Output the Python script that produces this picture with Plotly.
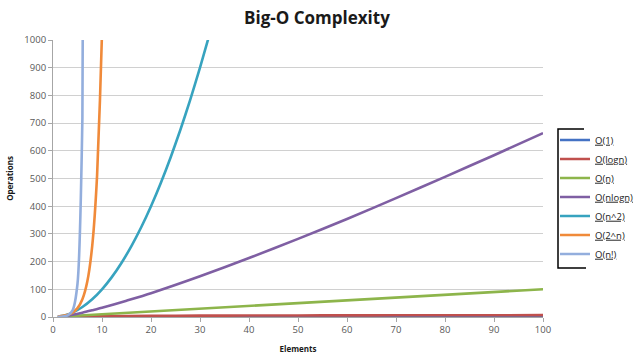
import plotly.graph_objects as go

# ---- data ----
series_names = ["O(1)", "O(logn)", "O(n)", "O(nlogn)", "O(n^2)", "O(2^n)", "O(n!)"]

x_const = [1, 100]
y_const = [1, 1]

x_log = [1, 2, 4, 10, 20, 30, 40, 50, 60, 70, 80, 90, 100]
y_log = [0, 1, 2, 3.3, 4.3, 4.9, 5.3, 5.6, 5.9, 6.1, 6.3, 6.5, 6.6]

x_lin = [1, 100]
y_lin = [1, 100]

x_nlog = [1, 2, 4, 6, 8, 10, 15, 20, 30, 40, 50, 60, 70, 80, 90, 100]
y_nlog = [0, 2, 8, 15.5, 24, 33, 59, 86, 147, 213, 282, 354, 429, 506, 584, 664]

x_sq = [1, 2, 3, 4, 6, 8, 10, 12, 14, 16, 18, 20, 22, 24, 26, 28, 30, 32]
y_sq = [1, 4, 9, 16, 36, 64, 100, 144, 196, 256, 324, 400, 484, 576, 676, 784, 900, 1024]

x_exp = [1, 2, 3, 4, 5, 6, 7, 8, 9, 10, 11]
y_exp = [2, 4, 8, 16, 32, 64, 128, 256, 512, 1024, 2048]

x_fact = [1, 2, 3, 4, 5, 6, 7]
y_fact = [1, 2, 6, 24, 120, 720, 5040]

colors = ["#4472c4", "#c0504d", "#8db54b", "#7f5fa3", "#37a3bf", "#f08a3a", "#93aedd"]

xs = [x_const, x_log, x_lin, x_nlog, x_sq, x_exp, x_fact]
ys = [y_const, y_log, y_lin, y_nlog, y_sq, y_exp, y_fact]

W, H = 639, 360
ML, MR, MT, MB = 53, 96, 40, 43
PW, PH = W - ML - MR, H - MT - MB

def px_to_paper_x(px):
    return (px - ML) / PW

def px_to_paper_y(py):
    return (H - MB - py) / PH

fig = go.Figure()
for name, x, y, c in zip(series_names, xs, ys, colors):
    fig.add_trace(go.Scatter(
        x=x, y=y, mode="lines", name="<u>" + name + "</u>",
        line=dict(color=c, width=2.6, shape="spline", smoothing=0.6),
        cliponaxis=True,
    ))

fig.update_layout(
    width=W, height=H,
    margin=dict(l=ML, r=MR, t=MT, b=MB, autoexpand=False),
    paper_bgcolor="white", plot_bgcolor="white",
    font=dict(family="Open Sans, Liberation Sans, sans-serif", color="#595959"),
    title=dict(text="<b>Big-O Complexity</b>", x=0.496, xanchor="center",
               y=0.95, yanchor="middle",
               font=dict(size=17, color="#1a1a1a")),
    showlegend=True,
    legend=dict(x=px_to_paper_x(555), xanchor="left",
                y=px_to_paper_y(197), yanchor="middle",
                font=dict(size=9.5, color="#1a1a1a"),
                bgcolor="rgba(0,0,0,0)", borderwidth=0,
                itemwidth=30, tracegroupgap=0),
    xaxis=dict(range=[0, 100], dtick=10, tick0=0, showgrid=False, automargin=False,
               showline=True, linecolor="#a6a6a6", linewidth=1,
               ticks="outside", ticklen=4, tickcolor="#a6a6a6",
               tickfont=dict(size=9.5, color="#595959"), zeroline=False,
               title=dict(text="<b>Elements</b>", font=dict(size=8, color="#1a1a1a"), standoff=10)),
    yaxis=dict(range=[0, 1000], dtick=100, tick0=0, showgrid=True, automargin=False,
               gridcolor="#d0d0d0", gridwidth=1,
               showline=True, linecolor="#a6a6a6", linewidth=1,
               ticks="outside", ticklen=4, tickcolor="#a6a6a6",
               tickfont=dict(size=9.5, color="#595959"), zeroline=False,
               title=dict(text="<b>Operations</b>", font=dict(size=8, color="#1a1a1a"), standoff=9)),
)

# legend bracket
fig.add_shape(type="path", xref="paper", yref="paper",
              path="M {a},{b} L {c},{b} L {c},{d} L {e},{d}".format(
                  a=px_to_paper_x(584), b=px_to_paper_y(129),
                  c=px_to_paper_x(558), d=px_to_paper_y(268),
                  e=px_to_paper_x(586)),
              line=dict(color="black", width=1.5))

fig.write_html("out.html",
               config={"displayModeBar": False},
               post_script="document.body.style.margin='0';document.body.style.padding='0';")
